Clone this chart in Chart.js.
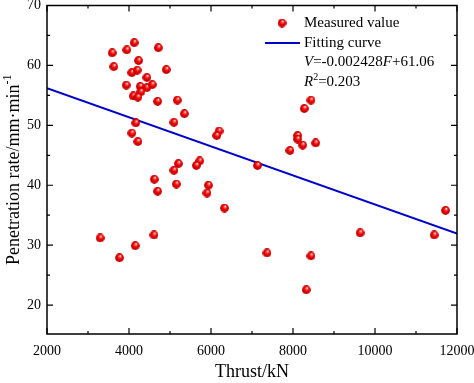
<!DOCTYPE html>
<html><head><meta charset="utf-8">
<script src="https://cdn.jsdelivr.net/npm/chart.js@4/dist/chart.umd.min.js"></script>
<style>html,body{margin:0;padding:0;background:#fff}#wrap{width:474px;height:383px}</style>
</head><body><div id="wrap"><canvas id="c" width="474" height="383"></canvas></div>
<script>
const thrust = [3589,3946,4127,4714,3629,4232,4068,4200,4909,4435,3932,4274,4435,4567,4289,4103,4215,4697,5178,5350,5095,4166,4068,4215,6196,6139,7134,5724,5643,5203,5095,4616,4697,5154,5936,5902,6328,3296,3768,4151,4609,7365,8438,8274,8112,8112,8235,8553,7924,11721,9636,11445,8438,8323];
const rate = [62.1,62.6,63.8,62.95,59.8,60.8,58.8,59.2,59.3,58.0,56.7,56.5,56.3,56.8,55.6,54.9,54.7,54.0,54.2,51.95,50.5,50.4,48.7,47.3,49.05,48.3,43.3,44.05,43.3,43.6,42.5,41.0,39.0,40.2,40.0,38.7,36.2,31.2,27.9,29.9,31.7,28.7,54.2,52.8,48.3,47.7,46.7,47.05,45.8,35.8,32.05,31.7,28.2,22.55];
const fitX = [2000, 12000];
const fitY = [56.20, 31.92];
const xTicks = [2000,4000,6000,8000,10000,12000];
const xMinor = [3000,5000,7000,9000,11000];
const yTicks = [20,30,40,50,60,70];
const yMinor = [25,35,45,55,65];
const seriesLabels = ['Measured value','Fitting curve'];
const eqText = ['V','=-0.002428','F','+61.06'];
const r2Text = ['R','2','=0.203'];

const SERIF = '"Liberation Serif","Times New Roman",serif';

function sphere(d){
  const c=document.createElement('canvas'); c.width=c.height=d;
  const g=c.getContext('2d'); const r=d/2;
  const grad=g.createRadialGradient(r*1.2,r*0.6,0.2,r,r,r);
  grad.addColorStop(0,'#ffffff');
  grad.addColorStop(0.2,'#ff6060');
  grad.addColorStop(0.5,'#f40000');
  grad.addColorStop(1,'#b00000');
  g.fillStyle=grad; g.beginPath(); g.arc(r,r,r-0.1,0,Math.PI*2); g.fill();
  return c;
}
const dot = sphere(9);

const framePlugin = {
  id:'frame',
  afterDraw(chart){
    const {ctx, chartArea:a, scales:{x,y}} = chart;
    ctx.save();
    ctx.strokeStyle='#000'; ctx.lineWidth=1.5;
    ctx.strokeRect(a.left,a.top,a.right-a.left,a.bottom-a.top);
    ctx.lineWidth=1.2;
    const tk=(arr,len)=>{
      arr.forEach(v=>{ const px=x.getPixelForValue(v);
        ctx.beginPath(); ctx.moveTo(px,a.bottom); ctx.lineTo(px,a.bottom-len);
        ctx.moveTo(px,a.top); ctx.lineTo(px,a.top+len); ctx.stroke(); });
    };
    const tky=(arr,len)=>{
      arr.forEach(v=>{ const py=y.getPixelForValue(v);
        ctx.beginPath(); ctx.moveTo(a.left,py); ctx.lineTo(a.left+len,py);
        ctx.moveTo(a.right,py); ctx.lineTo(a.right-len,py); ctx.stroke(); });
    };
    tk(xTicks,6); tk(xMinor,3); tky(yTicks,6); tky(yMinor,3);

    // y title with superscript
    ctx.fillStyle='#000';
    const main='Penetration rate/mm·min', sup='-1';
    ctx.font='18px '+SERIF; const w1=ctx.measureText(main).width;
    ctx.font='12px '+SERIF; const w2=ctx.measureText(sup).width;
    const tot=w1+w2; const cy=(a.top+a.bottom)/2;
    ctx.translate(19,cy); ctx.rotate(-Math.PI/2);
    ctx.textBaseline='alphabetic'; ctx.textAlign='left';
    ctx.font='18px '+SERIF; ctx.fillText(main,-tot/2,0);
    ctx.font='12px '+SERIF; ctx.fillText(sup,-tot/2+w1,-8);
    ctx.setTransform(1,0,0,1,0,0);

    // legend
    const lx=282, tx=304;
    ctx.drawImage(dot,lx-4.5,23-4.5);
    ctx.font='15px '+SERIF; ctx.textBaseline='middle'; ctx.textAlign='left';
    ctx.fillText(seriesLabels[0],tx,23);
    ctx.strokeStyle='#0000cc'; ctx.lineWidth=2;
    ctx.beginPath(); ctx.moveTo(265,43); ctx.lineTo(300,43); ctx.stroke();
    ctx.fillText(seriesLabels[1],tx,43);
    let cx=tx;
    eqText.forEach((s,i)=>{ ctx.font=(i%2===0?'italic ':'')+'15px '+SERIF; ctx.fillText(s,cx,62); cx+=ctx.measureText(s).width; });
    cx=tx;
    ctx.font='italic 15px '+SERIF; ctx.fillText(r2Text[0],cx,82); cx+=ctx.measureText(r2Text[0]).width;
    ctx.font='10px '+SERIF; ctx.fillText(r2Text[1],cx,77); cx+=ctx.measureText(r2Text[1]).width;
    ctx.font='15px '+SERIF; ctx.fillText(r2Text[2],cx,82);
    ctx.restore();
  }
};

new Chart(document.getElementById('c'),{
  type:'scatter',
  data:{datasets:[
    {label:seriesLabels[0], data:thrust.map((v,i)=>({x:v,y:rate[i]})), pointStyle:dot, pointRadius:4.5, pointHoverRadius:4.5, order:1},
    {label:seriesLabels[1], type:'line', data:fitX.map((v,i)=>({x:v,y:fitY[i]})), borderColor:'#0000cc', borderWidth:2, pointRadius:0, fill:false, order:2}
  ]},
  options:{
    responsive:false, animation:false, devicePixelRatio:1,
    layout:{padding:{top:5,right:17,left:0,bottom:0}},
    plugins:{legend:{display:false}, tooltip:{enabled:false}},
    scales:{
      x:{type:'linear', min:2000, max:12000,
        afterBuildTicks(s){ s.ticks=xTicks.map(v=>({value:v})); },
        afterFit(s){ s.height=49; s.paddingLeft=0; s.paddingRight=0; },
        grid:{display:false, drawTicks:false}, border:{display:false},
        ticks:{color:'#000', padding:9, font:{family:SERIF,size:14}, maxRotation:0, autoSkip:false, callback:v=>String(v)},
        title:{display:true, text:'Thrust/kN', color:'#000', font:{family:SERIF,size:18}, padding:{top:6,bottom:0}}
      },
      y:{type:'linear', min:15.17, max:70,
        afterBuildTicks(s){ s.ticks=yTicks.map(v=>({value:v})); },
        afterFit(s){ s.width=47; s.paddingTop=0; s.paddingBottom=0; },
        grid:{display:false, drawTicks:false}, border:{display:false},
        ticks:{color:'#000', padding:6, font:{family:SERIF,size:14}, autoSkip:false, callback:v=>String(v)}
      }
    }
  },
  plugins:[framePlugin]
});
</script></body></html>
